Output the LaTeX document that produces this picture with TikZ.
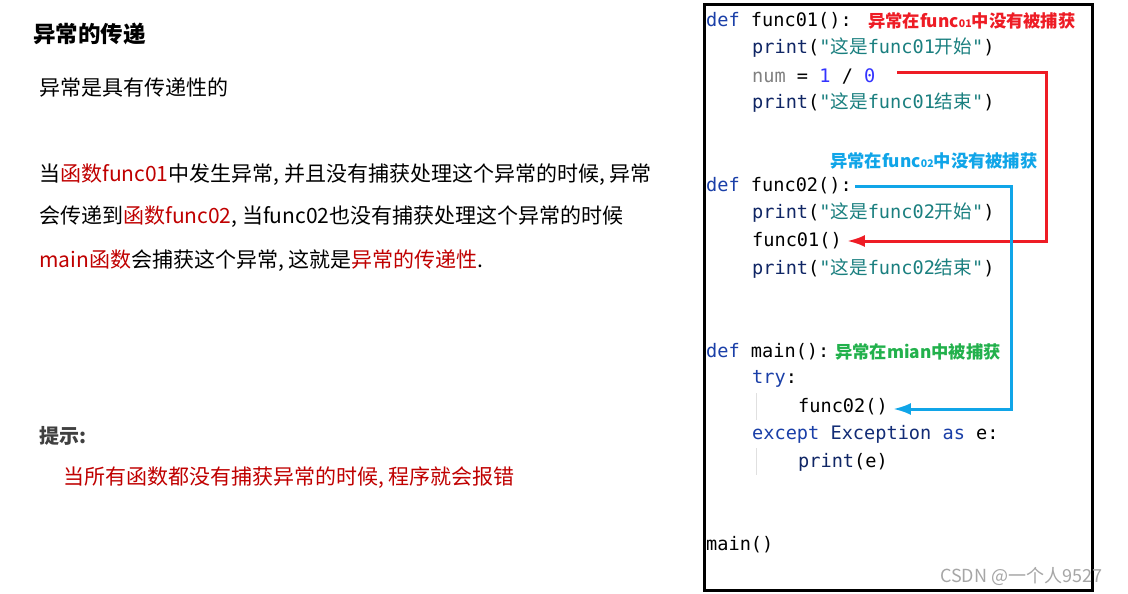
\documentclass[tikz,border=0pt]{standalone}
\usepackage{fontspec}
\setmainfont{Noto Sans CJK SC}
\newfontfamily\cjk{Noto Sans CJK SC}
\newfontfamily\cm{DejaVu Sans Mono}
\usetikzlibrary{arrows.meta}
\definecolor{kw}{HTML}{1A3FA8}
\definecolor{st}{HTML}{1A7F7F}
\definecolor{dr}{HTML}{C00000}
\definecolor{ar}{HTML}{EE1C25}
\definecolor{ab}{HTML}{10A5E8}
\definecolor{ag}{HTML}{22B14C}
\tikzset{
 code/.style={anchor=west,inner sep=0pt,font=\cm\fontsize{18.6}{18.6}\selectfont},
 txt/.style={anchor=west,inner sep=0pt,font=\fontsize{21}{21}\selectfont},
 lab/.style={anchor=west,inner sep=0pt,font=\bfseries\fontsize{17.3}{17.3}\selectfont},
 arr/.style={line width=3pt,-{Latex[length=18pt,width=12pt]}},
}
\newcommand{\cs}[1]{{\cjk #1}}
\begin{document}
\begin{tikzpicture}[x=1pt,y=-1pt]
\useasboundingbox (0,0) rectangle (1128,594);
\fill[white] (0,0) rectangle (1128,594);
% left
\node[anchor=west,inner sep=0pt,font=\bfseries\fontsize{22.5}{22.5}\selectfont] (title) at (33,34) {异常的传递};
\node[txt] (t1) at (39,88) {异常是具有传递性的};
\node[txt] (t2) at (39,175) {当\textcolor{dr}{函数func01}中发生异常, 并且没有捕获处理这个异常的时候, 异常};
\node[txt] (t3) at (39,217) {会传递到\textcolor{dr}{函数func02}, 当func02也没有捕获处理这个异常的时候};
\node[txt] (t4) at (39,261) {\textcolor{dr}{main函数}会捕获这个异常,\ 这就是\textcolor{dr}{异常的传递性}.};
\node[txt,font=\bfseries\fontsize{20}{20}\selectfont,text=black!75] (t5) at (39,436) {提示:};
\node[txt,text=dr] (t6) at (63,478) {当所有函数都没有捕获异常的时候, 程序就会报错};
% frame
\draw[line width=3pt] (704,5) rectangle (1092,590);
% code
\node[code] (c1) at (706,21) {\textcolor{kw}{def} func01():};
\node[code] (c2) at (752,48) {\textcolor{kw!60!black}{print}(\textcolor{st}{"\cs{这是}func01\cs{开始}"})};
\node[code] (c3) at (752,76) {\textcolor{gray}{num} = \textcolor{blue!80}{1} / \textcolor{blue!80}{0}};
\node[code] (c4) at (752,103) {\textcolor{kw!60!black}{print}(\textcolor{st}{"\cs{这是}func01\cs{结束}"})};
\node[code] (c5) at (706,186) {\textcolor{kw}{def} func02():};
\node[code] (c6) at (752,213) {\textcolor{kw!60!black}{print}(\textcolor{st}{"\cs{这是}func02\cs{开始}"})};
\node[code] (c7) at (752,241) {func01()};
\node[code] (c8) at (752,269) {\textcolor{kw!60!black}{print}(\textcolor{st}{"\cs{这是}func02\cs{结束}"})};
\node[code] (c9) at (706,352) {\textcolor{kw}{def} main():};
\node[code] (c10) at (752,379) {\textcolor{kw}{try}:};
\node[code] (c11) at (798,407) {func02()};
\node[code] (c12) at (752,434) {\textcolor{kw}{except} \textcolor{kw!70!black}{Exception} \textcolor{kw}{as} e:};
\node[code] (c13) at (798,462) {\textcolor{kw!60!black}{print}(e)};
\node[code] (c14) at (706,545) {main()};
\draw[black!12,line width=1pt] (756,393) -- (756,420) (756,448) -- (756,475);
% labels
\node[lab,text=ar] (l1) at (868,21) {异常在func{\fontsize{10.5}{10.5}\selectfont 01}中没有被捕获};
\node[lab,text=ab] (l2) at (830,161) {异常在func{\fontsize{10.5}{10.5}\selectfont 02}中没有被捕获};
\node[lab,text=ag] (l3) at (835,352) {异常在mian中被捕获};
% arrows
\coordinate (r0) at (897,73);
\coordinate (r1) at (1046,73);
\coordinate (r2) at (1046,241);
\draw[arr,ar] (r0) -- (r1) -- (r2) -- ([xshift=5pt]c7.east);
\coordinate (b0) at (855,186);
\coordinate (b1) at (1011,186);
\coordinate (b2) at (1011,409);
\draw[arr,ab] (b0) -- (b1) -- (b2) -- ([xshift=5pt]c11.east |- b2);
\node[anchor=west,inner sep=0pt,text=black!35,font=\fontsize{18}{18}\selectfont] (wm) at (940,576) {CSDN @一个人9527};
\end{tikzpicture}
\end{document}
